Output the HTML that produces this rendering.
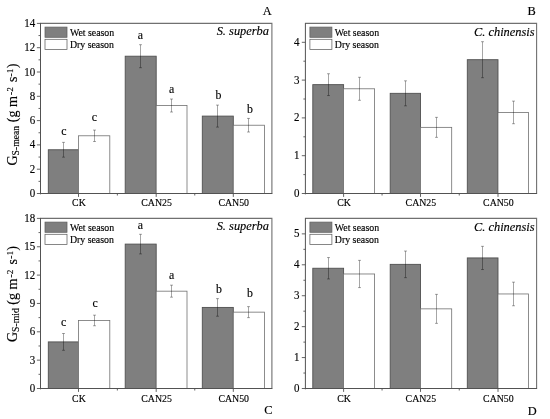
<!DOCTYPE html>
<html lang="en">
<head>
<meta charset="utf-8">
<title>Canopy conductance of S. superba and C. chinensis</title>
<style>
html,body{margin:0;padding:0;background:#fff;}
body{width:550px;height:419px;overflow:hidden;}
svg{display:block;}
svg text{font-family:"Liberation Serif","Times New Roman",serif;fill:#000000;stroke:#000000;stroke-width:0.15px;}
</style>
</head>
<body>
<svg width="550" height="419" viewBox="0 0 550 419">
<rect width="550" height="419" fill="#ffffff"/>
<rect x="48.30" y="149.76" width="30.20" height="43.74" fill="#7f7f7f" stroke="#505050" stroke-width="0.9"/>
<rect x="78.50" y="135.79" width="31.30" height="57.71" fill="#ffffff" stroke="#707070" stroke-width="0.8"/>
<rect x="125.20" y="56.20" width="31.00" height="137.30" fill="#7f7f7f" stroke="#505050" stroke-width="0.9"/>
<rect x="156.20" y="105.53" width="30.80" height="87.97" fill="#ffffff" stroke="#707070" stroke-width="0.8"/>
<rect x="202.30" y="116.10" width="31.00" height="77.40" fill="#7f7f7f" stroke="#505050" stroke-width="0.9"/>
<rect x="233.30" y="125.22" width="31.20" height="68.28" fill="#ffffff" stroke="#707070" stroke-width="0.8"/>
<path d="M63.50 142.36V157.16M62.00 142.36h3M62.00 157.16h3" stroke="#000" stroke-opacity="0.5" stroke-width="0.7" fill="none"/>
<path d="M94.50 130.09V141.49M93.00 130.09h3M93.00 141.49h3" stroke="#000" stroke-opacity="0.5" stroke-width="0.7" fill="none"/>
<path d="M140.50 44.70V67.70M139.00 44.70h3M139.00 67.70h3" stroke="#000" stroke-opacity="0.5" stroke-width="0.7" fill="none"/>
<path d="M171.50 99.03V112.03M170.00 99.03h3M170.00 112.03h3" stroke="#000" stroke-opacity="0.5" stroke-width="0.7" fill="none"/>
<path d="M217.50 105.10V127.10M216.00 105.10h3M216.00 127.10h3" stroke="#000" stroke-opacity="0.5" stroke-width="0.7" fill="none"/>
<path d="M248.50 118.42V132.02M247.00 118.42h3M247.00 132.02h3" stroke="#000" stroke-opacity="0.5" stroke-width="0.7" fill="none"/>
<path d="M40.5 23.4H271.9V193.5" fill="none" stroke="#707070" stroke-width="1.1"/>
<path d="M40.5 22.9V194.3M40.1 193.5H272.4" fill="none" stroke="#525252" stroke-width="1"/>
<path d="M40.5 193.50h-3.6M40.5 169.20h-3.6M40.5 144.90h-3.6M40.5 120.60h-3.6M40.5 96.30h-3.6M40.5 72.00h-3.6M40.5 47.70h-3.6M40.5 23.40h-3.6M40.5 181.35h-2M40.5 157.05h-2M40.5 132.75h-2M40.5 108.45h-2M40.5 84.15h-2M40.5 59.85h-2M40.5 35.55h-2M78.50 193.5v3.4M156.20 193.5v3.4M233.30 193.5v3.4M117.35 193.5v2M194.75 193.5v2" stroke="#525252" stroke-width="0.9" fill="none"/>
<text transform="translate(35.2 197.00) scale(.87 1)" text-anchor="end" font-size="12.6">0</text>
<text transform="translate(35.2 172.70) scale(.87 1)" text-anchor="end" font-size="12.6">2</text>
<text transform="translate(35.2 148.40) scale(.87 1)" text-anchor="end" font-size="12.6">4</text>
<text transform="translate(35.2 124.10) scale(.87 1)" text-anchor="end" font-size="12.6">6</text>
<text transform="translate(35.2 99.80) scale(.87 1)" text-anchor="end" font-size="12.6">8</text>
<text transform="translate(35.2 75.50) scale(.87 1)" text-anchor="end" font-size="12.6">10</text>
<text transform="translate(35.2 51.20) scale(.87 1)" text-anchor="end" font-size="12.6">12</text>
<text transform="translate(35.2 26.90) scale(.87 1)" text-anchor="end" font-size="12.6">14</text>
<text transform="translate(78.90 206.40) scale(.93 1)" text-anchor="middle" font-size="10.6">CK</text>
<text transform="translate(156.60 206.40) scale(.93 1)" text-anchor="middle" font-size="10.6">CAN25</text>
<text transform="translate(233.70 206.40) scale(.93 1)" text-anchor="middle" font-size="10.6">CAN50</text>
<rect x="45.0" y="27.099999999999998" width="22" height="10.2" fill="#7f7f7f" stroke="#5f5f5f" stroke-width="0.75"/>
<rect x="45.0" y="39.3" width="22" height="10.2" fill="#fff" stroke="#5f5f5f" stroke-width="0.75"/>
<text x="69.9" y="35.5" font-size="9.85">Wet season</text>
<text x="69.9" y="47.7" font-size="9.85">Dry season</text>
<text x="269" y="35.2" text-anchor="end" font-size="12.4" font-style="italic">S. superba</text>
<text transform="translate(63.90 134.90) scale(.9 1)" text-anchor="middle" font-size="13.2" stroke-width="0.3">c</text>
<text transform="translate(94.50 121.00) scale(.9 1)" text-anchor="middle" font-size="13.2" stroke-width="0.3">c</text>
<text transform="translate(140.30 38.60) scale(.9 1)" text-anchor="middle" font-size="13.2" stroke-width="0.3">a</text>
<text transform="translate(171.60 92.80) scale(.9 1)" text-anchor="middle" font-size="13.2" stroke-width="0.3">a</text>
<text transform="translate(218.40 99.00) scale(.9 1)" text-anchor="middle" font-size="13.2" stroke-width="0.3">b</text>
<text transform="translate(249.90 112.80) scale(.9 1)" text-anchor="middle" font-size="13.2" stroke-width="0.3">b</text>
<rect x="312.80" y="84.64" width="30.80" height="108.86" fill="#7f7f7f" stroke="#505050" stroke-width="0.9"/>
<rect x="343.60" y="88.79" width="31.00" height="104.71" fill="#ffffff" stroke="#707070" stroke-width="0.8"/>
<rect x="390.20" y="93.33" width="30.30" height="100.17" fill="#7f7f7f" stroke="#505050" stroke-width="0.9"/>
<rect x="420.50" y="127.35" width="31.20" height="66.15" fill="#ffffff" stroke="#707070" stroke-width="0.8"/>
<rect x="467.30" y="59.69" width="30.70" height="133.81" fill="#7f7f7f" stroke="#505050" stroke-width="0.9"/>
<rect x="498.00" y="112.42" width="30.40" height="81.08" fill="#ffffff" stroke="#707070" stroke-width="0.8"/>
<path d="M328.50 73.74V95.54M327.00 73.74h3M327.00 95.54h3" stroke="#000" stroke-opacity="0.5" stroke-width="0.7" fill="none"/>
<path d="M359.50 77.29V100.29M358.00 77.29h3M358.00 100.29h3" stroke="#000" stroke-opacity="0.5" stroke-width="0.7" fill="none"/>
<path d="M405.50 80.83V105.83M404.00 80.83h3M404.00 105.83h3" stroke="#000" stroke-opacity="0.5" stroke-width="0.7" fill="none"/>
<path d="M436.50 117.35V137.35M435.00 117.35h3M435.00 137.35h3" stroke="#000" stroke-opacity="0.5" stroke-width="0.7" fill="none"/>
<path d="M482.50 41.69V77.69M481.00 41.69h3M481.00 77.69h3" stroke="#000" stroke-opacity="0.5" stroke-width="0.7" fill="none"/>
<path d="M513.50 101.12V123.72M512.00 101.12h3M512.00 123.72h3" stroke="#000" stroke-opacity="0.5" stroke-width="0.7" fill="none"/>
<path d="M305.4 23.4H536.6V193.5" fill="none" stroke="#707070" stroke-width="1.1"/>
<path d="M305.4 22.9V194.3M305.0 193.5H537.1" fill="none" stroke="#525252" stroke-width="1"/>
<path d="M305.4 193.50h-3.6M305.4 155.70h-3.6M305.4 117.90h-3.6M305.4 80.10h-3.6M305.4 42.30h-3.6M305.4 174.60h-2M305.4 136.80h-2M305.4 99.00h-2M305.4 61.20h-2M343.60 193.5v3.4M420.50 193.5v3.4M498.00 193.5v3.4M382.05 193.5v2M459.25 193.5v2" stroke="#525252" stroke-width="0.9" fill="none"/>
<text transform="translate(299.5 197.00) scale(.87 1)" text-anchor="end" font-size="12.6">0</text>
<text transform="translate(299.5 159.20) scale(.87 1)" text-anchor="end" font-size="12.6">1</text>
<text transform="translate(299.5 121.40) scale(.87 1)" text-anchor="end" font-size="12.6">2</text>
<text transform="translate(299.5 83.60) scale(.87 1)" text-anchor="end" font-size="12.6">3</text>
<text transform="translate(299.5 45.80) scale(.87 1)" text-anchor="end" font-size="12.6">4</text>
<text transform="translate(344.00 206.40) scale(.93 1)" text-anchor="middle" font-size="10.6">CK</text>
<text transform="translate(420.90 206.40) scale(.93 1)" text-anchor="middle" font-size="10.6">CAN25</text>
<text transform="translate(498.40 206.40) scale(.93 1)" text-anchor="middle" font-size="10.6">CAN50</text>
<rect x="309.9" y="27.099999999999998" width="22" height="10.2" fill="#7f7f7f" stroke="#5f5f5f" stroke-width="0.75"/>
<rect x="309.9" y="39.3" width="22" height="10.2" fill="#fff" stroke="#5f5f5f" stroke-width="0.75"/>
<text x="334.79999999999995" y="35.5" font-size="9.85">Wet season</text>
<text x="334.79999999999995" y="47.7" font-size="9.85">Dry season</text>
<text x="534.6" y="35.9" text-anchor="end" font-size="12.4" font-style="italic">C. chinensis</text>
<rect x="48.30" y="341.91" width="30.20" height="46.59" fill="#7f7f7f" stroke="#505050" stroke-width="0.9"/>
<rect x="78.50" y="320.46" width="31.30" height="68.04" fill="#ffffff" stroke="#707070" stroke-width="0.8"/>
<rect x="125.20" y="244.10" width="31.00" height="144.40" fill="#7f7f7f" stroke="#505050" stroke-width="0.9"/>
<rect x="156.20" y="291.17" width="30.80" height="97.33" fill="#ffffff" stroke="#707070" stroke-width="0.8"/>
<rect x="202.30" y="307.42" width="31.00" height="81.08" fill="#7f7f7f" stroke="#505050" stroke-width="0.9"/>
<rect x="233.30" y="312.14" width="31.20" height="76.36" fill="#ffffff" stroke="#707070" stroke-width="0.8"/>
<path d="M63.50 333.51V350.31M62.00 333.51h3M62.00 350.31h3" stroke="#000" stroke-opacity="0.5" stroke-width="0.7" fill="none"/>
<path d="M94.50 315.16V325.76M93.00 315.16h3M93.00 325.76h3" stroke="#000" stroke-opacity="0.5" stroke-width="0.7" fill="none"/>
<path d="M140.50 234.30V253.90M139.00 234.30h3M139.00 253.90h3" stroke="#000" stroke-opacity="0.5" stroke-width="0.7" fill="none"/>
<path d="M171.50 285.17V297.17M170.00 285.17h3M170.00 297.17h3" stroke="#000" stroke-opacity="0.5" stroke-width="0.7" fill="none"/>
<path d="M217.50 298.62V316.22M216.00 298.62h3M216.00 316.22h3" stroke="#000" stroke-opacity="0.5" stroke-width="0.7" fill="none"/>
<path d="M248.50 306.64V317.64M247.00 306.64h3M247.00 317.64h3" stroke="#000" stroke-opacity="0.5" stroke-width="0.7" fill="none"/>
<path d="M40.5 218.4H271.9V388.5" fill="none" stroke="#707070" stroke-width="1.1"/>
<path d="M40.5 217.9V389.3M40.1 388.5H272.4" fill="none" stroke="#525252" stroke-width="1"/>
<path d="M40.5 388.50h-3.6M40.5 360.15h-3.6M40.5 331.80h-3.6M40.5 303.45h-3.6M40.5 275.10h-3.6M40.5 246.75h-3.6M40.5 218.40h-3.6M40.5 374.32h-2M40.5 345.98h-2M40.5 317.62h-2M40.5 289.27h-2M40.5 260.93h-2M40.5 232.58h-2M78.50 388.5v3.4M156.20 388.5v3.4M233.30 388.5v3.4M117.35 388.5v2M194.75 388.5v2" stroke="#525252" stroke-width="0.9" fill="none"/>
<text transform="translate(35.2 392.00) scale(.87 1)" text-anchor="end" font-size="12.6">0</text>
<text transform="translate(35.2 363.65) scale(.87 1)" text-anchor="end" font-size="12.6">3</text>
<text transform="translate(35.2 335.30) scale(.87 1)" text-anchor="end" font-size="12.6">6</text>
<text transform="translate(35.2 306.95) scale(.87 1)" text-anchor="end" font-size="12.6">9</text>
<text transform="translate(35.2 278.60) scale(.87 1)" text-anchor="end" font-size="12.6">12</text>
<text transform="translate(35.2 250.25) scale(.87 1)" text-anchor="end" font-size="12.6">15</text>
<text transform="translate(35.2 221.90) scale(.87 1)" text-anchor="end" font-size="12.6">18</text>
<text transform="translate(78.90 401.50) scale(.93 1)" text-anchor="middle" font-size="10.6">CK</text>
<text transform="translate(156.60 401.50) scale(.93 1)" text-anchor="middle" font-size="10.6">CAN25</text>
<text transform="translate(233.70 401.50) scale(.93 1)" text-anchor="middle" font-size="10.6">CAN50</text>
<rect x="45.0" y="222.1" width="22" height="10.2" fill="#7f7f7f" stroke="#5f5f5f" stroke-width="0.75"/>
<rect x="45.0" y="234.3" width="22" height="10.2" fill="#fff" stroke="#5f5f5f" stroke-width="0.75"/>
<text x="69.9" y="230.5" font-size="9.85">Wet season</text>
<text x="69.9" y="242.70000000000002" font-size="9.85">Dry season</text>
<text x="269" y="230.2" text-anchor="end" font-size="12.4" font-style="italic">S. superba</text>
<text transform="translate(63.70 325.90) scale(.9 1)" text-anchor="middle" font-size="13.2" stroke-width="0.3">c</text>
<text transform="translate(95.20 307.00) scale(.9 1)" text-anchor="middle" font-size="13.2" stroke-width="0.3">c</text>
<text transform="translate(140.50 228.80) scale(.9 1)" text-anchor="middle" font-size="13.2" stroke-width="0.3">a</text>
<text transform="translate(171.60 279.00) scale(.9 1)" text-anchor="middle" font-size="13.2" stroke-width="0.3">a</text>
<text transform="translate(218.90 292.80) scale(.9 1)" text-anchor="middle" font-size="13.2" stroke-width="0.3">b</text>
<text transform="translate(249.90 297.30) scale(.9 1)" text-anchor="middle" font-size="13.2" stroke-width="0.3">b</text>
<rect x="312.80" y="268.25" width="30.80" height="120.25" fill="#7f7f7f" stroke="#505050" stroke-width="0.9"/>
<rect x="343.60" y="273.98" width="31.00" height="114.52" fill="#ffffff" stroke="#707070" stroke-width="0.8"/>
<rect x="390.20" y="264.36" width="30.30" height="124.14" fill="#7f7f7f" stroke="#505050" stroke-width="0.9"/>
<rect x="420.50" y="308.86" width="31.20" height="79.64" fill="#ffffff" stroke="#707070" stroke-width="0.8"/>
<rect x="467.30" y="257.93" width="30.70" height="130.57" fill="#7f7f7f" stroke="#505050" stroke-width="0.9"/>
<rect x="498.00" y="293.96" width="30.40" height="94.54" fill="#ffffff" stroke="#707070" stroke-width="0.8"/>
<path d="M328.50 257.55V278.95M327.00 257.55h3M327.00 278.95h3" stroke="#000" stroke-opacity="0.5" stroke-width="0.7" fill="none"/>
<path d="M359.50 260.38V287.58M358.00 260.38h3M358.00 287.58h3" stroke="#000" stroke-opacity="0.5" stroke-width="0.7" fill="none"/>
<path d="M405.50 251.06V277.66M404.00 251.06h3M404.00 277.66h3" stroke="#000" stroke-opacity="0.5" stroke-width="0.7" fill="none"/>
<path d="M436.50 294.36V323.36M435.00 294.36h3M435.00 323.36h3" stroke="#000" stroke-opacity="0.5" stroke-width="0.7" fill="none"/>
<path d="M482.50 246.33V269.53M481.00 246.33h3M481.00 269.53h3" stroke="#000" stroke-opacity="0.5" stroke-width="0.7" fill="none"/>
<path d="M513.50 282.16V305.76M512.00 282.16h3M512.00 305.76h3" stroke="#000" stroke-opacity="0.5" stroke-width="0.7" fill="none"/>
<path d="M305.4 218.4H536.6V388.5" fill="none" stroke="#707070" stroke-width="1.1"/>
<path d="M305.4 217.9V389.3M305.0 388.5H537.1" fill="none" stroke="#525252" stroke-width="1"/>
<path d="M305.4 388.50h-3.6M305.4 357.57h-3.6M305.4 326.65h-3.6M305.4 295.72h-3.6M305.4 264.79h-3.6M305.4 233.86h-3.6M305.4 373.04h-2M305.4 342.11h-2M305.4 311.18h-2M305.4 280.25h-2M305.4 249.33h-2M343.60 388.5v3.4M420.50 388.5v3.4M498.00 388.5v3.4M382.05 388.5v2M459.25 388.5v2" stroke="#525252" stroke-width="0.9" fill="none"/>
<text transform="translate(299.5 392.00) scale(.87 1)" text-anchor="end" font-size="12.6">0</text>
<text transform="translate(299.5 361.07) scale(.87 1)" text-anchor="end" font-size="12.6">1</text>
<text transform="translate(299.5 330.15) scale(.87 1)" text-anchor="end" font-size="12.6">2</text>
<text transform="translate(299.5 299.22) scale(.87 1)" text-anchor="end" font-size="12.6">3</text>
<text transform="translate(299.5 268.29) scale(.87 1)" text-anchor="end" font-size="12.6">4</text>
<text transform="translate(299.5 237.36) scale(.87 1)" text-anchor="end" font-size="12.6">5</text>
<text transform="translate(344.00 401.50) scale(.93 1)" text-anchor="middle" font-size="10.6">CK</text>
<text transform="translate(420.90 401.50) scale(.93 1)" text-anchor="middle" font-size="10.6">CAN25</text>
<text transform="translate(498.40 401.50) scale(.93 1)" text-anchor="middle" font-size="10.6">CAN50</text>
<rect x="309.9" y="222.1" width="22" height="10.2" fill="#7f7f7f" stroke="#5f5f5f" stroke-width="0.75"/>
<rect x="309.9" y="234.3" width="22" height="10.2" fill="#fff" stroke="#5f5f5f" stroke-width="0.75"/>
<text x="334.79999999999995" y="230.5" font-size="9.85">Wet season</text>
<text x="334.79999999999995" y="242.70000000000002" font-size="9.85">Dry season</text>
<text x="534.6" y="230.9" text-anchor="end" font-size="12.4" font-style="italic">C. chinensis</text>
<text x="271.6" y="14.6" text-anchor="end" font-size="12.4">A</text>
<text x="535.8" y="14.6" text-anchor="end" font-size="12.4">B</text>
<text x="272.4" y="414.4" text-anchor="end" font-size="12.4">C</text>
<text x="536.8" y="414.9" text-anchor="end" font-size="12.4">D</text>
<text transform="translate(16.6 165.6) rotate(-90)" font-size="14.1">G<tspan font-size="9.7" dy="2.5">S-mean</tspan><tspan dy="-2.5"> (g m</tspan><tspan font-size="9.5" dx="1.0" dy="-2.6">-</tspan><tspan font-size="8.6" dx="0.3" dy="-1.3">2</tspan><tspan dx="1.8" dy="3.9"> s</tspan><tspan font-size="9.5" dx="0.1" dy="-2.6">-</tspan><tspan font-size="8.6" dx="0.3" dy="-1.3">1</tspan><tspan dx="0.3" dy="3.9">)</tspan></text>
<text transform="translate(16.6 342.1) rotate(-90)" font-size="14.1">G<tspan font-size="9.7" dy="2.5">S-mid</tspan><tspan dy="-2.5"> (g m</tspan><tspan font-size="9.5" dx="1.0" dy="-2.6">-</tspan><tspan font-size="8.6" dx="0.3" dy="-1.3">2</tspan><tspan dx="1.8" dy="3.9"> s</tspan><tspan font-size="9.5" dx="0.1" dy="-2.6">-</tspan><tspan font-size="8.6" dx="0.3" dy="-1.3">1</tspan><tspan dx="0.3" dy="3.9">)</tspan></text>
</svg>
</body>
</html>
